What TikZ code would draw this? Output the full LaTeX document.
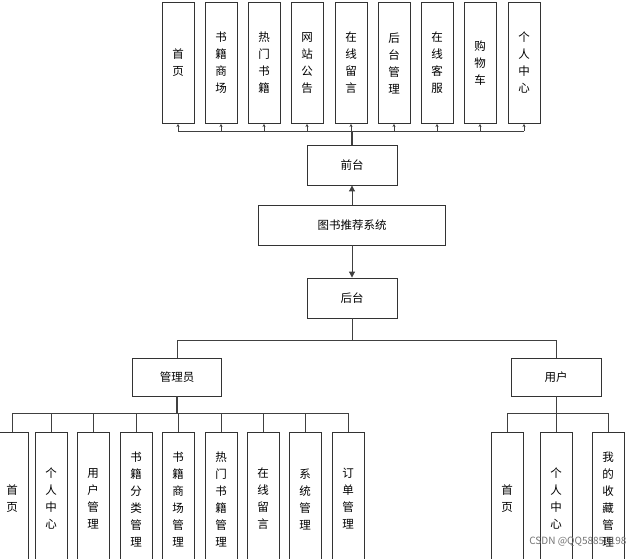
\documentclass[tikz,border=0pt]{standalone}
\usepackage{fontspec}
\setmainfont{Noto Sans CJK SC}
\usetikzlibrary{arrows.meta}
\begin{document}
\begin{tikzpicture}[x=1pt,y=-1pt,
  box/.style={draw=black!80,line width=0.9pt,inner sep=0pt,font=\fontsize{11.5}{17}\selectfont,align=center},
  ln/.style={draw=black!75,line width=0.8pt},
  sm/.style={ln,-{Stealth[length=3pt,width=3pt]}},
  big/.style={ln,line width=1pt,-{Triangle[length=6pt,width=6pt]}}]
\useasboundingbox (0,0) rectangle (632,559);
\clip (0,0) rectangle (632,559);
% top row
\foreach \x/\t [count=\i] in {178/首\\页,221/书\\籍\\商\\场,264/热\\门\\书\\籍,307/网\\站\\公\\告,351/在\\线\\留\\言,394/后\\台\\管\\理,437/在\\线\\客\\服,480/购\\物\\车,524/个\\人\\中\\心}
  \node[box,minimum width=32,minimum height=121] (t\i) at (\x,63) {\t};
\node[box,minimum width=90,minimum height=40] (qt) at (352,165) {前台};
\node[box,minimum width=187,minimum height=40] (sys) at (352,225) {图书推荐系统};
\node[box,minimum width=90,minimum height=40] (ht) at (352,298) {后台};
\node[box,minimum width=89,minimum height=38] (gly) at (177,377) {管理员};
\node[box,minimum width=90,minimum height=38] (yh) at (556,377) {用户};
\coordinate (tb) at (352,131);
\draw[ln] (t1.south |- tb) -- (t9.south |- tb);
\draw[ln,line width=1.6pt] (qt.north) -- (tb);
\foreach \i in {1,...,9} \draw[sm] (t\i.south |- tb) -- (t\i.south);
\draw[big] (sys.north) -- (qt.south);
\draw[big] (sys.south) -- (ht.north);
\coordinate (mb) at (352,340);
\draw[ln] (ht.south) -- (mb);
\draw[ln] (gly.north |- mb) -- (yh.north |- mb);
\draw[ln] (gly.north |- mb) -- (gly.north);
\draw[ln] (yh.north |- mb) -- (yh.north);
% admin children
\foreach \x/\t [count=\i] in {12/首\\页,51/个\\人\\中\\心,93/用\\户\\管\\理,136/书\\籍\\分\\类\\管\\理,178/书\\籍\\商\\场\\管\\理,221/热\\门\\书\\籍\\管\\理,263/在\\线\\留\\言,305/系\\统\\管\\理,348/订\\单\\管\\理}
  \node[box,minimum width=32,minimum height=134] (a\i) at (\x,499) {\t};
\coordinate (ab) at (0,413);
\draw[ln] (a1.north |- ab) -- (a9.north |- ab);
\draw[ln,line width=1.4pt] (gly.south) -- (gly.south |- ab);
\foreach \i in {1,...,9} \draw[ln] (a\i.north |- ab) -- (a\i.north);
% user children
\foreach \x/\t [count=\i] in {507/首\\页,556/个\\人\\中\\心,608/我\\的\\收\\藏\\管\\理}
  \node[box,minimum width=32,minimum height=134] (u\i) at (\x,499) {\t};
\draw[ln] (u1.north |- ab) -- (u3.north |- ab);
\draw[ln] (yh.south) -- (yh.south |- ab);
\foreach \i in {1,...,3} \draw[ln] (u\i.north |- ab) -- (u\i.north);
\node[font=\fontsize{10}{12}\selectfont,text=black!55,anchor=east] (wm) at (630,542) {CSDN @QQ58850198};
\end{tikzpicture}
\end{document}
